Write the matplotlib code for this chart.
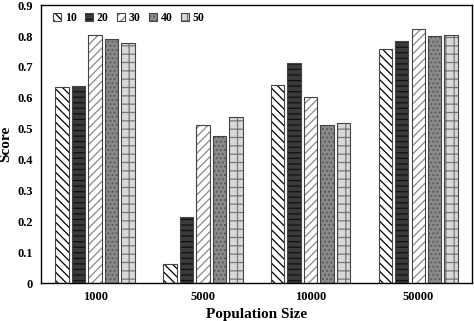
import numpy as np
import matplotlib.pyplot as plt

plt.rcParams['font.family'] = 'Liberation Serif'
plt.rcParams['font.weight'] = 'bold'
plt.rcParams['hatch.linewidth'] = 0.9

# Data
groups = ['1000', '5000', '10000', '50000']
series = ['10', '20', '30', '40', '50']
s10 = [0.635, 0.063, 0.643, 0.757]
s20 = [0.637, 0.215, 0.712, 0.785]
s30 = [0.802, 0.513, 0.603, 0.822]
s40 = [0.790, 0.475, 0.513, 0.800]
s50 = [0.778, 0.537, 0.520, 0.803]
values = [s10, s20, s30, s40, s50]

faces = ['white', '#3a3a3a', 'white', '#8a8a8a', '#d8d8d8']
hatches = ['\\\\\\\\', '---', '////', '....', '++']
hcolors = ['black', '#111111', '#888888', '#5a5a5a', '#777777']

fig = plt.figure(figsize=(4.74, 3.21), dpi=100)
ax = fig.add_axes([0.087, 0.118, 0.909, 0.866])

x = np.arange(len(groups))
w = 0.125
step = 0.153
handles = []
for i, (name, vals) in enumerate(zip(series, values)):
    off = (i - 2) * step
    b1 = ax.bar(x + off, vals, w, facecolor=faces[i], hatch=hatches[i],
                edgecolor=hcolors[i], linewidth=0)
    # outline
    b2 = ax.bar(x + off, vals, w, facecolor='none', edgecolor='#444444', linewidth=0.8)
    handles.append((b1[0], b2[0]))

ax.set_xlim(-0.5, 3.5)
ax.set_ylim(0, 0.9)
ax.set_yticks(np.arange(0, 0.91, 0.1))
ax.set_yticklabels(['0', '0.1', '0.2', '0.3', '0.4', '0.5', '0.6', '0.7', '0.8', '0.9'])
ax.set_xticks(x)
ax.set_xticklabels(groups)
ax.tick_params(length=0, labelsize=9, pad=6)
ax.set_xlabel('Population Size', fontsize=11, fontweight='bold', labelpad=3)
ax.set_ylabel('Score', fontsize=11, fontweight='bold', labelpad=4)
for s in ax.spines.values():
    s.set_linewidth(1.0)

ax.legend(handles, series, loc='upper left', ncol=5, frameon=False, fontsize=8.5,
          handlelength=0.7, handleheight=0.7, handletextpad=0.3,
          columnspacing=0.7, borderaxespad=0.4, bbox_to_anchor=(0.005, 1.01))

fig.savefig('out.png', dpi=100)
